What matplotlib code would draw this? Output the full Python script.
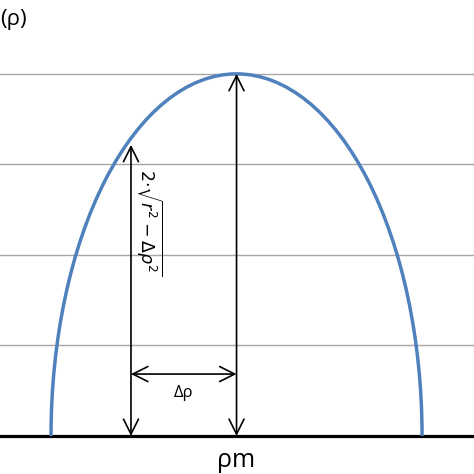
import matplotlib.pyplot as plt
from matplotlib.patches import Arc

# distribution shape, in units of r (half width) and peak height
rho_m = 0.0
r = 1.0
peak = 1.0
grid_levels = [0.25, 0.5, 0.75, 1.0]

# annotation positions
dp = -0.569          # offset of the left chord from rho_m
chord_top = 0.804    # top of the left chord arrow
dp_arrow_y = 0.171   # height of the horizontal delta-rho arrow

fig = plt.figure(figsize=(4.74, 4.74), dpi=100)
ax = fig.add_axes([0, 0, 1, 1])
ax.set_xlim(-1.275, 1.280)
ax.set_ylim(-0.105, 1.204)
ax.axis('off')

for g in grid_levels:
    ax.axhline(g, color='#a6a6a6', lw=1.0, zorder=1)
ax.axhline(0, color='black', lw=2.3, zorder=3)

ax.add_patch(Arc((rho_m, 0), 2 * r, 2 * peak, theta1=0, theta2=180,
                 color='#4f81bd', lw=2.5, zorder=4))

arrow = dict(arrowstyle='<->,head_length=0.6,head_width=0.3', color='black',
             lw=1.2, mutation_scale=18, shrinkA=0, shrinkB=0)
ax.annotate('', xy=(rho_m, peak), xytext=(rho_m, 0), arrowprops=arrow, zorder=5)
ax.annotate('', xy=(dp, chord_top), xytext=(dp, 0), arrowprops=arrow, zorder=5)
ax.annotate('', xy=(dp, dp_arrow_y), xytext=(rho_m, dp_arrow_y), arrowprops=arrow, zorder=5)

ax.text(dp / 2, 0.118, 'Δρ', ha='center', va='center', fontsize=12, family='Open Sans')
ax.text(dp + 0.1, 0.59, r'$2{\cdot}\sqrt{r^2-\Delta\rho^2}$', rotation=-90,
        ha='center', va='center', fontsize=12.5)
ax.text(rho_m, -0.068, 'ρm', ha='center', va='center', fontsize=18, family='Open Sans')
fig.text(0.0, 0.958, '(ρ)', ha='left', va='center', fontsize=16, family='Open Sans')

fig.savefig('out.png', dpi=100)
